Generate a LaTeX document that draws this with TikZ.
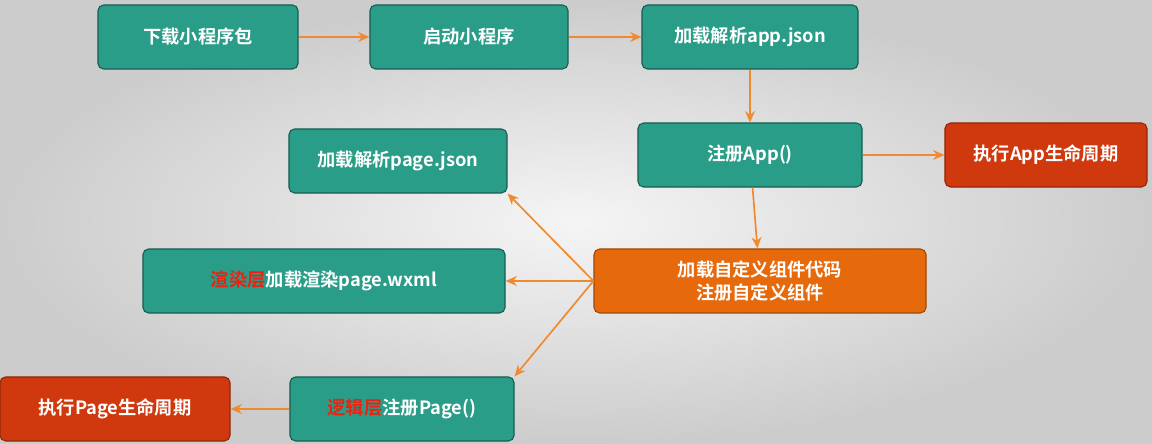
\documentclass[tikz,border=0pt]{standalone}
\usepackage{fontspec}
\newfontfamily\cjk{Noto Sans CJK SC}[BoldFont={* Bold}]
\usetikzlibrary{arrows.meta}
\definecolor{tealbox}{HTML}{2A9D88}
\definecolor{orangebox}{HTML}{E66A0C}
\definecolor{redbox}{HTML}{D0380E}
\definecolor{arrowc}{HTML}{F08A30}
\definecolor{redtxt}{HTML}{F02010}
\tikzset{
  base/.style={rectangle, rounded corners=4pt, minimum height=1.6cm, text centered, align=center, text=white, font=\cjk\bfseries\fontsize{13}{16}\selectfont, line width=0.8pt},
  stage/.style={base, fill=tealbox, draw=tealbox!60!black},
  custom/.style={base, fill=orangebox, draw=orangebox!70!black},
  life/.style={base, fill=redbox, draw=redbox!70!black},
  arrow/.style={draw=arrowc, line width=1.2pt, -{Stealth[length=8pt,width=7pt]}}
}
\newcommand{\hl}[1]{\textcolor{redtxt}{#1}}
\begin{document}
\begin{tikzpicture}[x=0.025cm, y=-0.025cm]
\useasboundingbox (0,0) rectangle (1152,444);
\shade[inner color=gray!8, outer color=gray!40] (0,0) rectangle (1152,444);
\node (dl)    [stage, minimum width=5.0cm] at (198,37) {下载小程序包};
\node (boot)  [stage, minimum width=4.95cm] at (469,37) {启动小程序};
\node (appj)  [stage, minimum width=5.4cm] at (750,37) {加载解析app.json};
\node (regapp)[stage, minimum width=5.6cm] at (750,155) {注册App()};
\node (applife)[life, minimum width=5.05cm] at (1046,155) {执行App生命周期};
\node (pagej) [stage, minimum width=5.45cm] at (398,161) {加载解析page.json};
\node (comp)  [custom, minimum width=8.3cm] at (760,281) {加载自定义组件代码\\注册自定义组件};
\node (wxml)  [stage, minimum width=9.05cm] at (324,281) {\hl{渲染层}加载渲染page.wxml};
\node (regpage)[stage, minimum width=5.6cm] at (402,409) {\hl{逻辑层}注册Page()};
\node (pagelife)[life, minimum width=5.75cm] at (115,409) {执行Page生命周期};
\draw [arrow] (dl) -- (boot);
\draw [arrow] (boot) -- (appj);
\draw [arrow] (appj) -- (regapp);
\draw [arrow] (regapp) -- (applife);
\draw [arrow] (regapp) -- (comp);
\draw [arrow] (comp.west) -- (pagej.south east);
\draw [arrow] (comp.west) -- (wxml);
\draw [arrow] (comp.west) -- (regpage.north east);
\draw [arrow] (regpage) -- (pagelife);
\end{tikzpicture}
\end{document}
